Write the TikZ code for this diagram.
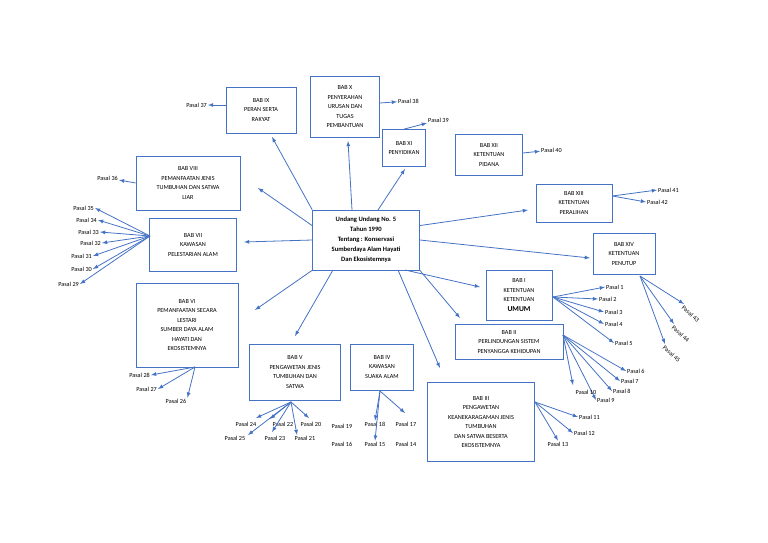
\documentclass[tikz,border=0pt]{standalone}
\usepackage{fontspec}
\setmainfont{Carlito}
\definecolor{arblue}{RGB}{68,114,196}
\begin{document}
\begin{tikzpicture}[x=1pt,y=-1pt,
  bab/.style={draw=arblue,line width=0.7pt,align=center,font=\fontsize{6.2}{9.5}\selectfont,inner sep=2pt},
  ar/.style={draw=arblue,line width=0.8pt,-latex},
  ps/.style={font=\fontsize{6.2}{7}\selectfont,inner sep=1pt}]
\useasboundingbox (0,0) rectangle (768,543);
% boxes
\node[bab,minimum width=107,minimum height=60,font=\bfseries\fontsize{6.6}{10}\selectfont] (uu) at (366,240) {Undang Undang No. 5\\Tahun 1990\\Tentang : Konservasi\\Sumberdaya Alam Hayati\\Dan Ekosistemnya};
\node[bab,minimum width=70,minimum height=46] (b9) at (261,110) {BAB IX\\PERAN SERTA\\RAKYAT};
\node[bab,minimum width=69,minimum height=61] (b10) at (345,107) {BAB X\\PENYERAHAN\\URUSAN DAN\\TUGAS\\PEMBANTUAN};
\node[bab,minimum width=43,minimum height=37] (b11) at (404,148) {BAB XI\\PENYIDIKAN};
\node[bab,minimum width=67,minimum height=41] (b12) at (489,155) {BAB XII\\KETENTUAN\\PIDANA};
\node[bab,minimum width=76,minimum height=38] (b13) at (574,203) {BAB XIII\\KETENTUAN\\PERALIHAN};
\node[bab,minimum width=62,minimum height=41] (b14) at (624,254) {BAB XIV\\KETENTUAN\\PENUTUP};
\node[bab,minimum width=66,minimum height=50] (b1) at (519,295) {BAB I\\KETENTUAN\\KETENTUAN\\{\bfseries\fontsize{7.5}{9}\selectfont UMUM}};
\node[bab,minimum width=108,minimum height=35] (b2) at (509,342) {BAB II\\PERLINDUNGAN SISTEM\\PENYANGGA KEHIDUPAN};
\node[bab,minimum width=107,minimum height=79] (b3) at (481,422) {BAB III\\PENGAWETAN\\KEANEKARAGAMAN JENIS\\TUMBUHAN\\DAN SATWA BESERTA\\EKOSISTEMNYA};
\node[bab,minimum width=63,minimum height=46] (b4) at (382,367) {BAB IV\\KAWASAN\\SUAKA ALAM};
\node[bab,minimum width=91,minimum height=56] (b5) at (295,372) {BAB V\\PENGAWETAN JENIS\\TUMBUHAN DAN\\SATWA};
\node[bab,minimum width=102,minimum height=84] (b6) at (187,325) {BAB VI\\PEMANFAATAN SECARA\\LESTARI\\SUMBER DAYA ALAM\\HAYATI DAN\\EKOSISTEMNYA};
\node[bab,minimum width=87,minimum height=53] (b7) at (193,245) {BAB VII\\KAWASAN\\PELESTARIAN ALAM};
\node[bab,minimum width=104,minimum height=54] (b8) at (188,183) {BAB VIII\\PEMANFAATAN JENIS\\TUMBUHAN DAN SATWA\\LIAR};
% main arrows
\coordinate (e9) at (272,137);  \coordinate (e10) at (348,141);
\coordinate (e11) at (405,169); \coordinate (e13) at (528,210);
\coordinate (e14) at (590,258); \coordinate (e1) at (480,287);
\coordinate (e2) at (460,318);  \coordinate (e3) at (440,368);
\coordinate (e5) at (295,336);  \coordinate (e6) at (255,310);
\coordinate (e7) at (244,242);  \coordinate (e8) at (258,188);
\draw[ar] (uu.north west) -- (e9);
\draw[ar] (352,210) -- (e10);
\draw[ar] (378,210) -- (e11);
\draw[ar] (uu.15) -- (e13);
\draw[ar] (uu.east) -- (e14);
\draw[ar] (405,270) -- (e1);
\draw[ar] (uu.south east) -- (e2);
\draw[ar] (398,270) -- (e3);
\draw[ar] (333,270) -- (e5);
\draw[ar] (uu.south west) -- (e6);
\draw[ar] (uu.west) -- (e7);
\draw[ar] (uu.165) -- (e8);
% pasal
\node[ps,anchor=east] (p37) at (208,105) {Pasal 37};
\draw[ar] (b9.west |- 0,105) -- (p37);
\node[ps,anchor=west] (p38) at (397,101) {Pasal 38};
\draw[ar] (b10.east |- 0,103) -- (p38);
\node[ps,anchor=west] (p39) at (427,120) {Pasal 39};
\draw[ar] (b11.north) -- (p39);
\node[ps,anchor=west] (p40) at (540,150) {Pasal 40};
\draw[ar] (b12.east |- 0,153) -- (p40);
\node[ps,anchor=west] (p41) at (657,190) {Pasal 41};
\node[ps,anchor=west] (p42) at (646,202) {Pasal 42};
\foreach \p in {p41,p42} \draw[ar] (b13.east |- 0,196) -- (\p.west);
\node[ps,rotate=-40,anchor=north west] (p43) at (684,304) {Pasal 43};
\node[ps,rotate=-40,anchor=north west] (p44) at (674,324) {Pasal 44};
\node[ps,rotate=-40,anchor=north west] (p45) at (665,344) {Pasal 45};
\foreach \p in {p43,p44,p45} \draw[ar] (640,276) -- (\p.north west);
\coordinate (s1) at (553,297);
\foreach \n/\x/\y in {1/605/287,2/598/299,3/604/312,4/604/324,5/614/343}{
  \node[ps,anchor=west] (p\n) at (\x,\y) {Pasal \n};
  \draw[ar] (s1) -- (p\n.west);}
\coordinate (s2) at (563,335);
\foreach \n/\x/\y in {6/626/371,7/620/381,8/612/391,9/596/400}{
  \node[ps,anchor=west] (p\n) at (\x,\y) {Pasal \n};
  \draw[ar] (s2) -- (p\n.west);}
\node[ps] (p10) at (586,392) {Pasal 10};
\draw[ar] (s2) -- (573,385);
\coordinate (s3) at (535,402);
\node[ps,anchor=west] (p11) at (578,417) {Pasal 11};
\node[ps,anchor=west] (p12) at (573,433) {Pasal 12};
\node[ps] (p13) at (558,444) {Pasal 13};
\draw[ar] (s3) -- (p11.west); \draw[ar] (s3) -- (p12.west); \draw[ar] (s3) -- (p13.north);
\coordinate (s5) at (291,402);
\foreach \n/\x/\y in {24/246/424,22/283/424,20/311/424,25/235/438,23/275/438,21/305/438}{
  \node[ps] (p\n) at (\x,\y) {Pasal \n};}
\draw[ar] (s5) -- (256,418); \draw[ar] (s5) -- (270,419); \draw[ar] (s5) -- (309,418);
\draw[ar] (s5) -- (248,435); \draw[ar] (s5) -- (272,432); \draw[ar] (s5) -- (297,435);
\coordinate (s4) at (380,391);
\foreach \n/\x/\y in {19/342/426,18/375/424,17/406/424,16/342/444,15/375/444,14/406/444}{
  \node[ps] (p\n) at (\x,\y) {Pasal \n};}
\draw[ar] (s4) -- (p18.north); \draw[ar] (s4) -- (405,413); \draw[ar] (s4) -- (p15.north);
\coordinate (s6) at (195,367);
\node[ps,anchor=east] (p28) at (151,375) {Pasal 28};
\node[ps,anchor=east] (p27) at (158,389) {Pasal 27};
\node[ps] (p26) at (176,401) {Pasal 26};
\draw[ar] (s6) -- (p28.east); \draw[ar] (s6) -- (p27.east); \draw[ar] (s6) -- (p26.north east);
\coordinate (s7) at (150,236);
\foreach \n/\x/\y in {35/95/208,34/98/220,33/100/232,32/102/243,31/93/256,30/93/269,29/80/284}{
  \node[ps,anchor=east] (p\n) at (\x,\y) {Pasal \n};
  \draw[ar] (s7) -- (p\n.east);}
\node[ps,anchor=east] (p36) at (119,178) {Pasal 36};
\draw[ar] (b8.west) -- (p36);
\end{tikzpicture}
\end{document}
